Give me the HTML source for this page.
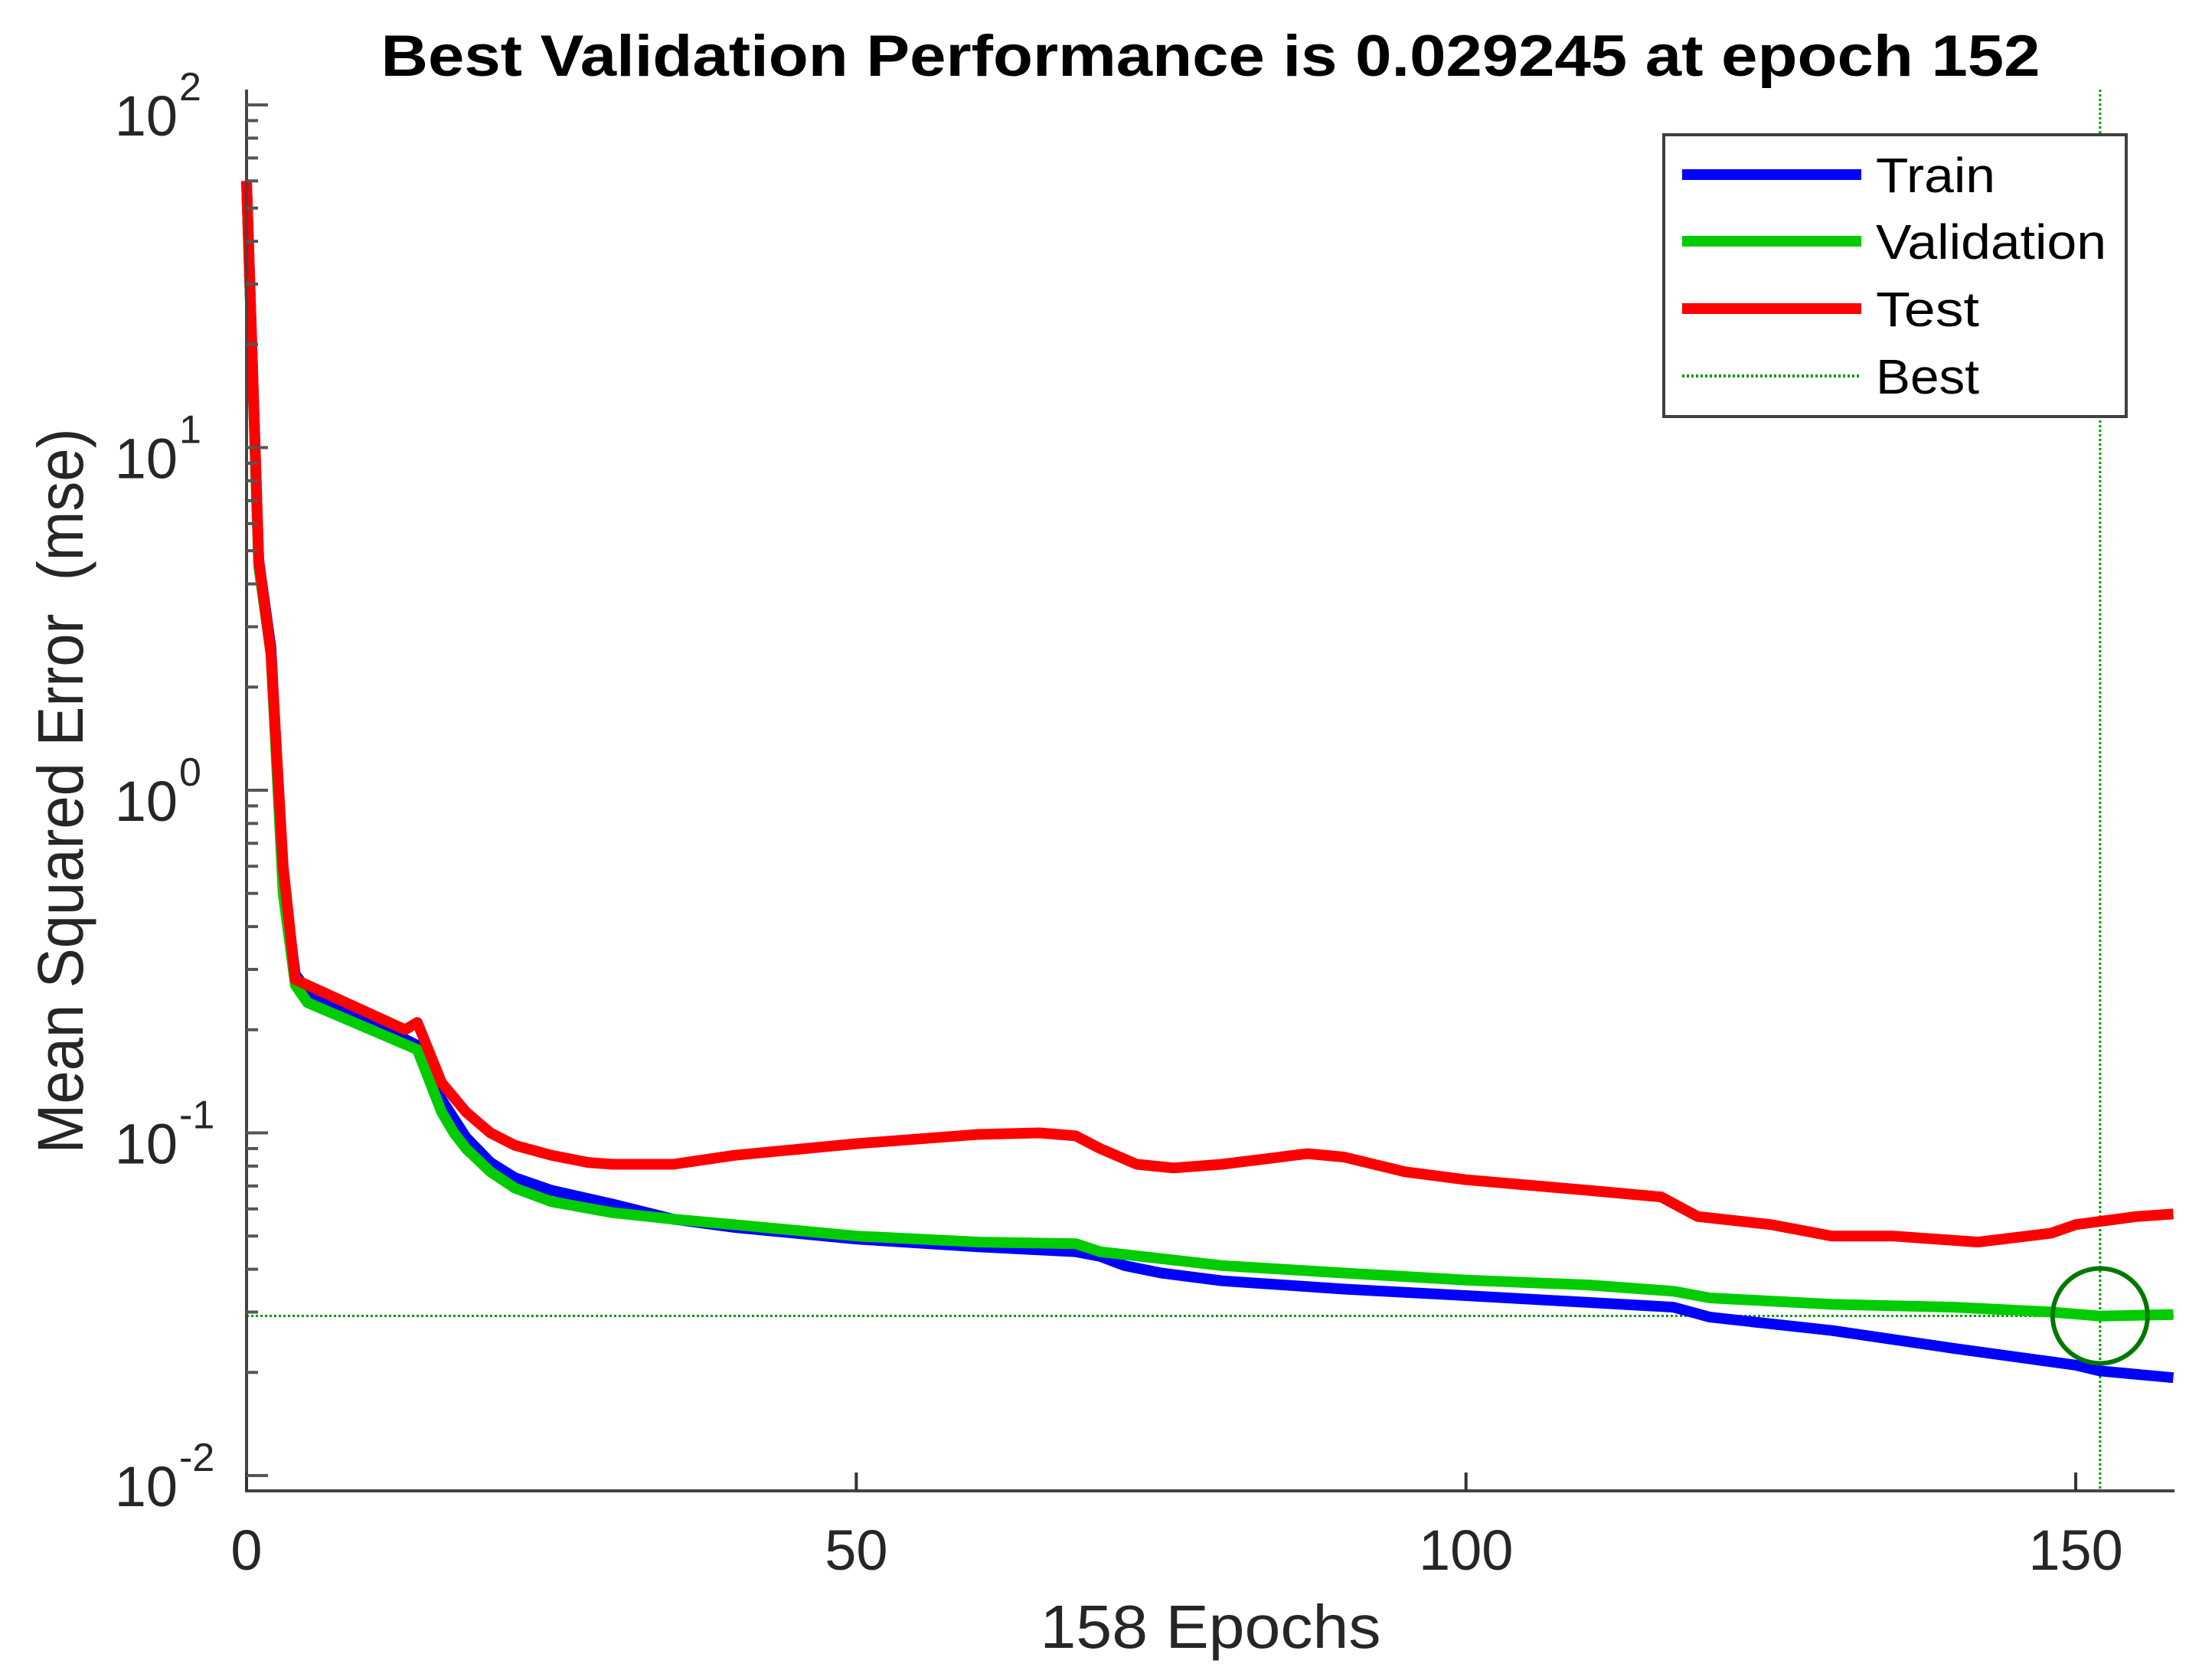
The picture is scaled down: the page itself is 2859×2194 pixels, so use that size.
<!DOCTYPE html>
<html><head><meta charset="utf-8"><style>
html,body{margin:0;padding:0;background:#fff;}
svg{display:block;font-family:"Liberation Sans",Arial,sans-serif;}
</style></head><body>
<svg id="chart" width="2859" height="2194" viewBox="0 0 2859 2194" xmlns="http://www.w3.org/2000/svg">
<rect width="2859" height="2194" fill="#fff"/>
<text x="1581" y="99" font-size="76" font-weight="bold" text-anchor="middle" textLength="2167" lengthAdjust="spacingAndGlyphs" fill="#000">Best Validation Performance is 0.029245 at epoch 152</text>
<text x="1581" y="2152" font-size="80" text-anchor="middle" textLength="445" lengthAdjust="spacingAndGlyphs" fill="#262626">158 Epochs</text>
<text transform="translate(108,1033) rotate(-90)" font-size="84" text-anchor="middle" textLength="947" lengthAdjust="spacingAndGlyphs" fill="#262626">Mean Squared Error&#160; (mse)</text>
<g id="plot"></g>
<g id="legend">
<rect x="2173" y="176" width="604" height="368" fill="#fff" stroke="#404040" stroke-width="4"/>
<line x1="2197" y1="228" x2="2431" y2="228" stroke="#0000ff" stroke-width="14"/>
<text x="2450" y="251" font-size="64" textLength="156" lengthAdjust="spacingAndGlyphs" fill="#000">Train</text>
<line x1="2197" y1="315" x2="2431" y2="315" stroke="#00cc00" stroke-width="14"/>
<text x="2450" y="338" font-size="64" textLength="301" lengthAdjust="spacingAndGlyphs" fill="#000">Validation</text>
<line x1="2197" y1="403" x2="2431" y2="403" stroke="#ff0000" stroke-width="14"/>
<text x="2450" y="426" font-size="64" textLength="135" lengthAdjust="spacingAndGlyphs" fill="#000">Test</text>
<line x1="2197" y1="491" x2="2431" y2="491" stroke="#009900" stroke-width="4" stroke-dasharray="3,3"/>
<text x="2450" y="514" font-size="64" textLength="135" lengthAdjust="spacingAndGlyphs" fill="#000">Best</text>
</g>
</svg>
<script>
const trainEpochs = [0,1,2,3,4,5,14,16,18,20,22,25,30,35,40,50,60,68,70,72,75,80,90,100,110,117,120,130,140,150,152,158];
const trainValues = [60,4.7,2.6,0.55,0.29,0.26,0.18,0.125,0.097,0.082,0.074,0.068,0.062,0.056,0.053,0.049,0.0465,0.045,0.0436,0.041,0.039,0.037,0.035,0.0335,0.032,0.031,0.029,0.0265,0.0235,0.021,0.0202,0.0193];
const valEpochs = [0,1,2,3,4,5,14,16,17,18,20,22,25,30,35,40,50,60,68,70,80,90,100,110,117,120,130,140,148,152,158];
const valValues = [60,4.5,2.5,0.5,0.27,0.24,0.175,0.115,0.1,0.09,0.077,0.069,0.063,0.0585,0.056,0.054,0.05,0.048,0.0475,0.045,0.041,0.039,0.0372,0.036,0.0345,0.033,0.0316,0.031,0.03,0.0292,0.0295];
const testEpochs = [0,1,2,3,4,5,13,14,16,18,20,22,25,28,30,35,40,50,60,65,68,70,73,76,80,87,90,95,100,110,116,119,125,130,135,142,148,150,155,158];
const testValues = [60,4.7,2.5,0.6,0.28,0.27,0.2,0.21,0.14,0.115,0.1,0.092,0.086,0.082,0.081,0.081,0.086,0.093,0.099,0.1,0.098,0.09,0.081,0.079,0.081,0.087,0.085,0.077,0.073,0.068,0.065,0.057,0.054,0.05,0.05,0.048,0.051,0.054,0.057,0.058];
const bestEpoch = 152;
const bestValue = 0.029245;
const xTicks = [0,50,100,150];
const yTickExps = [-2,-1,0,1,2];

const X0=322, XPER=15.927, Y2=137, DEC=447.5;
function sx(e){return X0+e*XPER;}
function sy(v){return Y2+(2-Math.log10(v))*DEC;}
const NS="http://www.w3.org/2000/svg";
const plot=document.getElementById('plot');
function mk(tag,attrs,parent){const el=document.createElementNS(NS,tag);for(const k in attrs)el.setAttribute(k,attrs[k]);(parent||plot).appendChild(el);return el;}

const xEnd=sx(158.1), yBottom=1947, yTop=117;
let bl=mk('line',{x1:sx(0),y1:sy(bestValue),x2:xEnd,y2:sy(bestValue),stroke:'#009900','stroke-width':3,'stroke-dasharray':'3,3'});


let bv=mk('line',{x1:sx(bestEpoch),y1:yTop,x2:sx(bestEpoch),y2:yBottom,stroke:'#009900','stroke-width':3,'stroke-dasharray':'3,3'});



function series(ep,vals,color,name){
  let d=ep.map((e,i)=>(i?'L':'M')+sx(e).toFixed(1)+','+sy(vals[i]).toFixed(1)).join(' ');
  const p=mk('path',{d:d,fill:'none',stroke:color,'stroke-width':14,'stroke-linejoin':'round'});
  
  
}
series(trainEpochs,trainValues,'#0000ff','train-line');
series(valEpochs,valValues,'#00cc00','validation-line');
series(testEpochs,testValues,'#ff0000','test-line');

const c=mk('circle',{cx:sx(bestEpoch),cy:sy(bestValue),r:62,fill:'none',stroke:'#007800','stroke-width':6});



const ax=mk('path',{d:`M${X0},${yTop} L${X0},${yBottom} L${xEnd},${yBottom}`,fill:'none',stroke:'#444','stroke-width':4});


xTicks.forEach(t=>{
  const l=mk('line',{x1:sx(t),y1:yBottom,x2:sx(t),y2:yBottom-24,stroke:'#333','stroke-width':4});
  
  
  const tx=mk('text',{x:sx(t),y:2050,'font-size':74,'text-anchor':'middle',fill:'#262626'});
  
  
  tx.textContent=String(t);
});
yTickExps.forEach(p=>{
  const y=sy(Math.pow(10,p));
  const l=mk('line',{x1:X0,y1:y,x2:X0+28,y2:y,stroke:'#555','stroke-width':4});
  
  
  const tx=mk('text',{x:232,y:y+40,'font-size':74,'text-anchor':'end',fill:'#262626'});
  
  
  tx.textContent='10';
  const sup=mk('text',{x:234,y:y-6,'font-size':52,'text-anchor':'start',fill:'#262626'});
  
  
  sup.textContent=p<0?'-'+(-p):String(p);
  if(p<2){for(let m=2;m<=9;m++){
    const my=sy(m*Math.pow(10,p));
    const ml=mk('line',{x1:X0,y1:my,x2:X0+15,y2:my,stroke:'#555','stroke-width':4});
    
    
  }}
});
</script>
</body></html>
